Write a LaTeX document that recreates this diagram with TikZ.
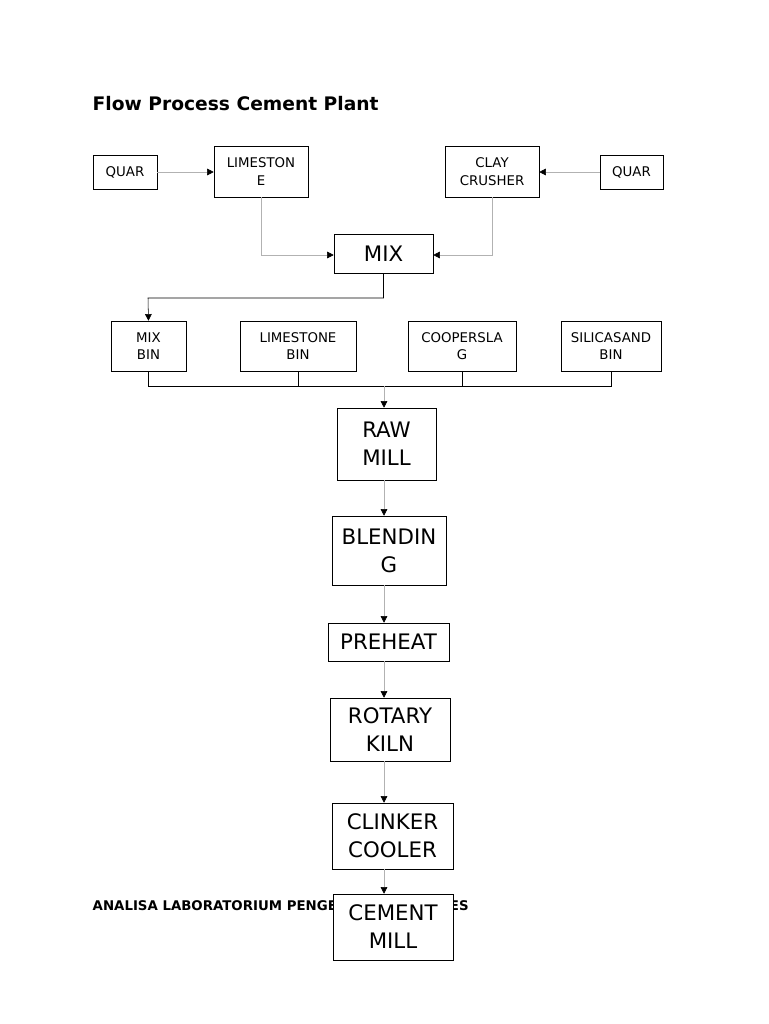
\documentclass[tikz,border=0pt]{standalone}
\usepackage{fontspec}
\setmainfont{DejaVu Sans}
\usetikzlibrary{arrows.meta}
\begin{document}
\begin{tikzpicture}[x=0.75pt,y=-0.75pt,
    box/.style={draw, fill=white, align=center, inner sep=1pt, font=\fontsize{10}{13}\selectfont},
    bigbox/.style={box, font=\fontsize{16}{21}\selectfont},
    flow/.style={draw=gray!60, -{Triangle[black,length=5pt,width=5pt]}},
    link/.style={draw=black}]
    \useasboundingbox (0,0) rectangle (768,1024);

    % Title and footer text
    \node[anchor=west, font=\bfseries\fontsize{14}{16}\selectfont] (title) at (88,104) {Flow Process Cement Plant};
    \node[anchor=west, font=\bfseries\fontsize{10}{12}\selectfont] (lab) at (88,906) {ANALISA LABORATORIUM PENGENDALIAN PROSES};

    % Raw material section
    \node[box, minimum width=48pt, minimum height=25.5pt] (quarL) at (125,172) {QUAR};
    \node[box, minimum width=70.5pt, minimum height=38.25pt] (lime) at (261,171.5) {LIMESTON\\E};
    \node[box, minimum width=70.5pt, minimum height=38.25pt] (clay) at (492,171.5) {CLAY\\CRUSHER};
    \node[box, minimum width=47.25pt, minimum height=25.5pt] (quarR) at (631.5,172) {QUAR};
    \node[bigbox, minimum width=74.25pt, minimum height=29.25pt] (mix) at (383.5,253.5) {MIX};

    % Bins
    \node[box, minimum width=56.25pt, minimum height=37.5pt] (mixbin) at (148.5,346) {MIX\\BIN};
    \node[box, minimum width=87pt, minimum height=37.5pt] (limebin) at (298,346) {LIMESTONE\\BIN};
    \node[box, minimum width=81pt, minimum height=37.5pt] (cooper) at (462,346) {COOPERSLA\\G};
    \node[box, minimum width=75pt, minimum height=37.5pt] (silica) at (611,346) {SILICASAND\\BIN};
    \coordinate (bus) at (384,386);

    % Main line
    \node[bigbox, minimum width=74.25pt, minimum height=54pt] (rawmill) at (386.5,444) {RAW\\MILL};
    \node[bigbox, minimum width=85.5pt, minimum height=51.75pt] (blend) at (389,550.5) {BLENDIN\\G};
    \node[bigbox, minimum width=90.75pt, minimum height=28.5pt] (preheat) at (388.5,642) {PREHEAT};
    \node[bigbox, minimum width=90pt, minimum height=47.25pt] (kiln) at (390,729.5) {ROTARY\\KILN};
    \node[bigbox, minimum width=90.75pt, minimum height=49.5pt] (clinker) at (392.5,836) {CLINKER\\COOLER};
    \node[bigbox, minimum width=90pt, minimum height=49.5pt] (cement) at (393,927) {CEMENT\\MILL};

    % Connectors
    \draw[flow] (quarL) -- (lime.west |- quarL);
    \draw[flow] (quarR) -- (clay.east |- quarR);
    \draw[flow] (lime.south) |- (mix.west |- 0,255);
    \draw[flow] (clay.south) |- (mix.east |- 0,255);
    \draw[link, -{Triangle[black,length=5pt,width=5pt]}] (mix.south) |- (148,298) -- (mixbin.north);
    \draw[link] (mixbin.south) |- (silica.south |- bus) -- (silica.south);
    \draw[link] (limebin.south) -- (limebin.south |- bus);
    \draw[link] (cooper.south) -- (cooper.south |- bus);
    \draw[flow] (bus) -- (bus |- rawmill.north);
    \draw[flow] (rawmill.south -| bus) -- (bus |- blend.north);
    \draw[flow] (blend.south -| bus) -- (bus |- preheat.north);
    \draw[flow] (preheat.south -| bus) -- (bus |- kiln.north);
    \draw[flow] (kiln.south -| bus) -- (bus |- clinker.north);
    \draw[flow] (clinker.south -| bus) -- (bus |- cement.north);
\end{tikzpicture}
\end{document}
